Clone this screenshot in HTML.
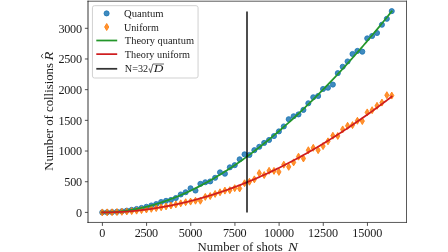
<!DOCTYPE html>
<html><head><meta charset="utf-8"><style>
html,body{margin:0;padding:0;background:#fff;width:448px;height:252px;overflow:hidden}
svg{display:block}
</style></head><body>
<svg width="448" height="252" viewBox="0 0 448 252">
<rect width="448" height="252" fill="#fff"/>
<defs><clipPath id="ax"><rect x="87.8" y="1.3" width="318.4" height="221"/></clipPath></defs>
<g clip-path="url(#ax)">
<g fill="#1f77b4" fill-opacity="0.85" stroke="#1f77b4" stroke-opacity="0.85" stroke-width="1.0">
<circle cx="102.25" cy="212.40" r="2.55"/>
<circle cx="107.16" cy="212.33" r="2.55"/>
<circle cx="112.06" cy="212.11" r="2.55"/>
<circle cx="116.97" cy="211.76" r="2.55"/>
<circle cx="121.88" cy="211.26" r="2.55"/>
<circle cx="126.78" cy="210.63" r="2.55"/>
<circle cx="131.69" cy="209.86" r="2.55"/>
<circle cx="136.60" cy="208.96" r="2.55"/>
<circle cx="141.50" cy="207.93" r="2.55"/>
<circle cx="146.41" cy="206.77" r="2.55"/>
<circle cx="151.32" cy="205.47" r="2.55"/>
<circle cx="156.23" cy="204.05" r="2.55"/>
<circle cx="161.13" cy="202.01" r="2.55"/>
<circle cx="166.04" cy="200.83" r="2.55"/>
<circle cx="170.95" cy="199.94" r="2.55"/>
<circle cx="175.85" cy="198.02" r="2.55"/>
<circle cx="180.76" cy="194.49" r="2.55"/>
<circle cx="185.67" cy="192.23" r="2.55"/>
<circle cx="190.57" cy="188.26" r="2.55"/>
<circle cx="195.48" cy="190.57" r="2.55"/>
<circle cx="200.39" cy="183.87" r="2.55"/>
<circle cx="205.29" cy="182.26" r="2.55"/>
<circle cx="210.20" cy="181.43" r="2.55"/>
<circle cx="215.11" cy="177.79" r="2.55"/>
<circle cx="220.01" cy="172.35" r="2.55"/>
<circle cx="224.92" cy="173.69" r="2.55"/>
<circle cx="229.83" cy="167.33" r="2.55"/>
<circle cx="234.74" cy="165.16" r="2.55"/>
<circle cx="239.64" cy="159.29" r="2.55"/>
<circle cx="244.55" cy="154.32" r="2.55"/>
<circle cx="249.46" cy="154.94" r="2.55"/>
<circle cx="254.36" cy="150.16" r="2.55"/>
<circle cx="259.27" cy="146.79" r="2.55"/>
<circle cx="264.18" cy="142.91" r="2.55"/>
<circle cx="269.08" cy="139.94" r="2.55"/>
<circle cx="273.99" cy="136.07" r="2.55"/>
<circle cx="278.90" cy="131.40" r="2.55"/>
<circle cx="283.80" cy="126.44" r="2.55"/>
<circle cx="288.71" cy="119.19" r="2.55"/>
<circle cx="293.62" cy="116.25" r="2.55"/>
<circle cx="298.52" cy="114.41" r="2.55"/>
<circle cx="303.43" cy="109.88" r="2.55"/>
<circle cx="308.34" cy="103.27" r="2.55"/>
<circle cx="313.25" cy="97.26" r="2.55"/>
<circle cx="318.15" cy="95.97" r="2.55"/>
<circle cx="323.06" cy="88.99" r="2.55"/>
<circle cx="327.97" cy="87.73" r="2.55"/>
<circle cx="332.87" cy="84.58" r="2.55"/>
<circle cx="337.78" cy="73.15" r="2.55"/>
<circle cx="342.69" cy="66.73" r="2.55"/>
<circle cx="347.59" cy="61.44" r="2.55"/>
<circle cx="352.50" cy="53.96" r="2.55"/>
<circle cx="357.41" cy="50.90" r="2.55"/>
<circle cx="362.31" cy="51.66" r="2.55"/>
<circle cx="367.22" cy="38.35" r="2.55"/>
<circle cx="372.13" cy="35.95" r="2.55"/>
<circle cx="377.03" cy="32.98" r="2.55"/>
<circle cx="381.94" cy="24.73" r="2.55"/>
<circle cx="386.85" cy="18.81" r="2.55"/>
<circle cx="391.76" cy="11.11" r="2.55"/>
</g>
<g fill="#ff7f0e" fill-opacity="0.85" stroke="#ff7f0e" stroke-opacity="0.85" stroke-width="1.0" stroke-linejoin="miter">
<path d="M102.25 208.90L104.35 212.40L102.25 215.90L100.15 212.40Z"/>
<path d="M107.16 208.86L109.26 212.36L107.16 215.86L105.06 212.36Z"/>
<path d="M112.06 208.76L114.16 212.26L112.06 215.76L109.96 212.26Z"/>
<path d="M116.97 208.58L119.07 212.08L116.97 215.58L114.87 212.08Z"/>
<path d="M121.88 208.33L123.98 211.83L121.88 215.33L119.78 211.83Z"/>
<path d="M126.78 208.00L128.88 211.50L126.78 215.00L124.68 211.50Z"/>
<path d="M131.69 207.61L133.79 211.11L131.69 214.61L129.59 211.11Z"/>
<path d="M136.60 207.15L138.70 210.65L136.60 214.15L134.50 210.65Z"/>
<path d="M141.50 206.62L143.60 210.12L141.50 213.62L139.40 210.12Z"/>
<path d="M146.41 206.01L148.51 209.51L146.41 213.01L144.31 209.51Z"/>
<path d="M151.32 205.34L153.42 208.84L151.32 212.34L149.22 208.84Z"/>
<path d="M156.23 204.60L158.33 208.10L156.23 211.60L154.13 208.10Z"/>
<path d="M161.13 203.79L163.23 207.29L161.13 210.79L159.03 207.29Z"/>
<path d="M166.04 202.91L168.14 206.41L166.04 209.91L163.94 206.41Z"/>
<path d="M170.95 201.96L173.05 205.46L170.95 208.96L168.85 205.46Z"/>
<path d="M175.85 200.95L177.95 204.45L175.85 207.95L173.75 204.45Z"/>
<path d="M180.76 199.86L182.86 203.36L180.76 206.86L178.66 203.36Z"/>
<path d="M185.67 198.71L187.77 202.21L185.67 205.71L183.57 202.21Z"/>
<path d="M190.57 198.09L192.67 201.59L190.57 205.09L188.47 201.59Z"/>
<path d="M195.48 197.21L197.58 200.71L195.48 204.21L193.38 200.71Z"/>
<path d="M200.39 197.26L202.49 200.76L200.39 204.26L198.29 200.76Z"/>
<path d="M205.29 193.44L207.39 196.94L205.29 200.44L203.19 196.94Z"/>
<path d="M210.20 192.56L212.30 196.06L210.20 199.56L208.10 196.06Z"/>
<path d="M215.11 190.41L217.21 193.91L215.11 197.41L213.01 193.91Z"/>
<path d="M220.01 188.79L222.11 192.29L220.01 195.79L217.91 192.29Z"/>
<path d="M224.92 187.11L227.02 190.61L224.92 194.11L222.82 190.61Z"/>
<path d="M229.83 186.67L231.93 190.17L229.83 193.67L227.73 190.17Z"/>
<path d="M234.74 184.66L236.84 188.16L234.74 191.66L232.64 188.16Z"/>
<path d="M239.64 184.98L241.74 188.48L239.64 191.98L237.54 188.48Z"/>
<path d="M244.55 179.74L246.65 183.24L244.55 186.74L242.45 183.24Z"/>
<path d="M249.46 178.24L251.56 181.74L249.46 185.24L247.36 181.74Z"/>
<path d="M254.36 175.87L256.46 179.37L254.36 182.87L252.26 179.37Z"/>
<path d="M259.27 169.64L261.37 173.14L259.27 176.64L257.17 173.14Z"/>
<path d="M264.18 171.55L266.28 175.05L264.18 178.55L262.08 175.05Z"/>
<path d="M269.08 167.30L271.18 170.80L269.08 174.30L266.98 170.80Z"/>
<path d="M273.99 167.38L276.09 170.88L273.99 174.38L271.89 170.88Z"/>
<path d="M278.90 168.40L281.00 171.90L278.90 175.40L276.80 171.90Z"/>
<path d="M283.80 161.16L285.90 164.66L283.80 168.16L281.70 164.66Z"/>
<path d="M288.71 163.35L290.81 166.85L288.71 170.35L286.61 166.85Z"/>
<path d="M293.62 158.89L295.72 162.39L293.62 165.89L291.52 162.39Z"/>
<path d="M298.52 153.16L300.62 156.66L298.52 160.16L296.42 156.66Z"/>
<path d="M303.43 154.98L305.53 158.48L303.43 161.98L301.33 158.48Z"/>
<path d="M308.34 146.73L310.44 150.23L308.34 153.73L306.24 150.23Z"/>
<path d="M313.25 144.32L315.35 147.82L313.25 151.32L311.15 147.82Z"/>
<path d="M318.15 146.65L320.25 150.15L318.15 153.65L316.05 150.15Z"/>
<path d="M323.06 142.62L325.16 146.12L323.06 149.62L320.96 146.12Z"/>
<path d="M327.97 137.83L330.07 141.33L327.97 144.83L325.87 141.33Z"/>
<path d="M332.87 132.19L334.97 135.69L332.87 139.19L330.77 135.69Z"/>
<path d="M337.78 132.48L339.88 135.98L337.78 139.48L335.68 135.98Z"/>
<path d="M342.69 125.91L344.79 129.41L342.69 132.91L340.59 129.41Z"/>
<path d="M347.59 122.29L349.69 125.79L347.59 129.29L345.49 125.79Z"/>
<path d="M352.50 121.61L354.60 125.11L352.50 128.61L350.40 125.11Z"/>
<path d="M357.41 117.27L359.51 120.77L357.41 124.27L355.31 120.77Z"/>
<path d="M362.31 117.57L364.41 121.07L362.31 124.57L360.21 121.07Z"/>
<path d="M367.22 108.91L369.32 112.41L367.22 115.91L365.12 112.41Z"/>
<path d="M372.13 106.70L374.23 110.20L372.13 113.70L370.03 110.20Z"/>
<path d="M377.03 102.32L379.13 105.82L377.03 109.32L374.93 105.82Z"/>
<path d="M381.94 99.10L384.04 102.60L381.94 106.10L379.84 102.60Z"/>
<path d="M386.85 91.71L388.95 95.21L386.85 98.71L384.75 95.21Z"/>
<path d="M391.76 92.07L393.86 95.57L391.76 99.07L389.66 95.57Z"/>
</g>
<polyline points="102.25,212.40 103.70,212.39 105.15,212.37 106.59,212.34 108.04,212.30 109.49,212.24 110.94,212.18 112.38,212.09 113.83,212.00 115.28,211.90 116.73,211.78 118.17,211.65 119.62,211.51 121.07,211.35 122.52,211.19 123.96,211.01 125.41,210.82 126.86,210.62 128.31,210.41 129.75,210.18 131.20,209.95 132.65,209.70 134.10,209.44 135.54,209.17 136.99,208.89 138.44,208.59 139.89,208.29 141.33,207.97 142.78,207.64 144.23,207.30 145.68,206.95 147.12,206.59 148.57,206.21 150.02,205.83 151.47,205.43 152.91,205.02 154.36,204.61 155.81,204.18 157.26,203.74 158.70,203.29 160.15,202.82 161.60,202.35 163.05,201.87 164.49,201.37 165.94,200.87 167.39,200.35 168.84,199.83 170.28,199.29 171.73,198.74 173.18,198.18 174.63,197.61 176.07,197.03 177.52,196.45 178.97,195.85 180.42,195.23 181.86,194.61 183.31,193.98 184.76,193.34 186.21,192.69 187.65,192.03 189.10,191.36 190.55,190.67 192.00,189.98 193.44,189.28 194.89,188.57 196.34,187.85 197.79,187.11 199.23,186.37 200.68,185.62 202.13,184.86 203.58,184.09 205.02,183.30 206.47,182.51 207.92,181.71 209.37,180.90 210.81,180.08 212.26,179.25 213.71,178.41 215.16,177.56 216.60,176.71 218.05,175.84 219.50,174.96 220.95,174.07 222.39,173.18 223.84,172.27 225.29,171.36 226.74,170.43 228.18,169.50 229.63,168.56 231.08,167.61 232.53,166.65 233.97,165.68 235.42,164.70 236.87,163.71 238.32,162.71 239.77,161.71 241.21,160.69 242.66,159.67 244.11,158.63 245.56,157.59 247.00,156.54 248.45,155.48 249.90,154.41 251.35,153.34 252.79,152.25 254.24,151.16 255.69,150.05 257.14,148.94 258.58,147.82 260.03,146.69 261.48,145.56 262.93,144.41 264.37,143.25 265.82,142.09 267.27,140.92 268.72,139.74 270.16,138.55 271.61,137.35 273.06,136.15 274.51,134.94 275.95,133.71 277.40,132.48 278.85,131.25 280.30,130.00 281.74,128.74 283.19,127.48 284.64,126.21 286.09,124.93 287.53,123.64 288.98,122.35 290.43,121.05 291.88,119.73 293.32,118.42 294.77,117.09 296.22,115.75 297.67,114.41 299.11,113.06 300.56,111.70 302.01,110.33 303.46,108.96 304.90,107.58 306.35,106.19 307.80,104.79 309.25,103.39 310.69,101.97 312.14,100.55 313.59,99.12 315.04,97.69 316.48,96.24 317.93,94.79 319.38,93.34 320.83,91.87 322.27,90.40 323.72,88.91 325.17,87.43 326.62,85.93 328.06,84.43 329.51,82.92 330.96,81.40 332.41,79.87 333.85,78.34 335.30,76.80 336.75,75.26 338.20,73.70 339.64,72.14 341.09,70.57 342.54,69.00 343.99,67.41 345.43,65.82 346.88,64.23 348.33,62.62 349.78,61.01 351.22,59.39 352.67,57.77 354.12,56.13 355.57,54.49 357.01,52.85 358.46,51.20 359.91,49.54 361.36,47.87 362.80,46.20 364.25,44.51 365.70,42.83 367.15,41.13 368.59,39.43 370.04,37.72 371.49,36.01 372.94,34.29 374.38,32.56 375.83,30.83 377.28,29.09 378.73,27.34 380.18,25.58 381.62,23.82 383.07,22.05 384.52,20.28 385.97,18.50 387.41,16.71 388.86,14.92 390.31,13.12 391.76,11.31" fill="none" stroke="#23962a" stroke-width="1.75" stroke-linecap="square" stroke-linejoin="round"/>
<polyline points="102.25,212.40 103.70,212.40 105.15,212.39 106.59,212.37 108.04,212.35 109.49,212.32 110.94,212.29 112.38,212.25 113.83,212.20 115.28,212.15 116.73,212.09 118.17,212.02 119.62,211.95 121.07,211.87 122.52,211.79 123.96,211.70 125.41,211.60 126.86,211.50 128.31,211.39 129.75,211.27 131.20,211.15 132.65,211.03 134.10,210.89 135.54,210.75 136.99,210.61 138.44,210.46 139.89,210.30 141.33,210.14 142.78,209.97 144.23,209.79 145.68,209.61 147.12,209.42 148.57,209.23 150.02,209.02 151.47,208.82 152.91,208.61 154.36,208.39 155.81,208.16 157.26,207.93 158.70,207.70 160.15,207.46 161.60,207.21 163.05,206.95 164.49,206.69 165.94,206.43 167.39,206.16 168.84,205.88 170.28,205.59 171.73,205.30 173.18,205.01 174.63,204.71 176.07,204.40 177.52,204.09 178.97,203.77 180.42,203.44 181.86,203.11 183.31,202.77 184.76,202.43 186.21,202.08 187.65,201.73 189.10,201.37 190.55,201.00 192.00,200.63 193.44,200.25 194.89,199.87 196.34,199.48 197.79,199.08 199.23,198.68 200.68,198.27 202.13,197.86 203.58,197.44 205.02,197.02 206.47,196.59 207.92,196.15 209.37,195.71 210.81,195.27 212.26,194.81 213.71,194.35 215.16,193.89 216.60,193.42 218.05,192.95 219.50,192.46 220.95,191.98 222.39,191.48 223.84,190.99 225.29,190.48 226.74,189.97 228.18,189.46 229.63,188.94 231.08,188.41 232.53,187.88 233.97,187.34 235.42,186.80 236.87,186.25 238.32,185.69 239.77,185.13 241.21,184.57 242.66,184.00 244.11,183.42 245.56,182.84 247.00,182.25 248.45,181.66 249.90,181.06 251.35,180.45 252.79,179.84 254.24,179.23 255.69,178.61 257.14,177.98 258.58,177.35 260.03,176.71 261.48,176.07 262.93,175.42 264.37,174.76 265.82,174.10 267.27,173.44 268.72,172.77 270.16,172.09 271.61,171.41 273.06,170.72 274.51,170.03 275.95,169.34 277.40,168.63 278.85,167.92 280.30,167.21 281.74,166.49 283.19,165.77 284.64,165.04 286.09,164.30 287.53,163.56 288.98,162.81 290.43,162.06 291.88,161.31 293.32,160.54 294.77,159.78 296.22,159.00 297.67,158.23 299.11,157.44 300.56,156.65 302.01,155.86 303.46,155.06 304.90,154.26 306.35,153.45 307.80,152.63 309.25,151.81 310.69,150.99 312.14,150.16 313.59,149.32 315.04,148.48 316.48,147.63 317.93,146.78 319.38,145.92 320.83,145.06 322.27,144.19 323.72,143.32 325.17,142.44 326.62,141.56 328.06,140.67 329.51,139.78 330.96,138.88 332.41,137.98 333.85,137.07 335.30,136.16 336.75,135.24 338.20,134.31 339.64,133.38 341.09,132.45 342.54,131.51 343.99,130.57 345.43,129.62 346.88,128.66 348.33,127.70 349.78,126.74 351.22,125.77 352.67,124.79 354.12,123.81 355.57,122.83 357.01,121.84 358.46,120.84 359.91,119.84 361.36,118.83 362.80,117.82 364.25,116.81 365.70,115.79 367.15,114.76 368.59,113.73 370.04,112.70 371.49,111.66 372.94,110.61 374.38,109.56 375.83,108.51 377.28,107.44 378.73,106.38 380.18,105.31 381.62,104.23 383.07,103.15 384.52,102.07 385.97,100.98 387.41,99.88 388.86,98.78 390.31,97.68 391.76,96.57" fill="none" stroke="#cf1d1f" stroke-width="1.75" stroke-linecap="square" stroke-linejoin="round"/>
<line x1="247.00" y1="212.40" x2="247.00" y2="11.48" stroke="#000" stroke-opacity="0.8" stroke-width="1.75"/>
</g>
<path d="M406.5 1.2V222.45M88.0 1.2H406.5M88.0 222.45H406.5" fill="none" stroke="#3c3c3c" stroke-width="0.85" stroke-linecap="square"/>
<path d="M88.0 1.2V222.45" fill="none" stroke="#111" stroke-width="0.85" stroke-linecap="square"/>
<path d="M102.40 222.45V225.9 M146.58 222.45V225.9 M190.75 222.45V225.9 M234.93 222.45V225.9 M279.10 222.45V225.9 M323.27 222.45V225.9 M367.45 222.45V225.9 M88.0 212.40H84.9 M88.0 181.72H84.9 M88.0 151.03H84.9 M88.0 120.35H84.9 M88.0 89.67H84.9 M88.0 58.98H84.9 M88.0 28.30H84.9" stroke="#333" stroke-width="0.85" fill="none"/>
<g font-family='"Liberation Serif", serif' font-size="12.2" fill="#1c1c1c">
<text x="102.25" y="237.0" text-anchor="middle" textLength="5.75">0</text>
<text x="146.43" y="237.0" text-anchor="middle" textLength="23.50">2500</text>
<text x="190.60" y="237.0" text-anchor="middle" textLength="23.50">5000</text>
<text x="234.78" y="237.0" text-anchor="middle" textLength="23.50">7500</text>
<text x="278.95" y="237.0" text-anchor="middle" textLength="30.15">10000</text>
<text x="323.12" y="237.0" text-anchor="middle" textLength="30.15">12500</text>
<text x="367.30" y="237.0" text-anchor="middle" textLength="30.15">15000</text>
<text x="82.0" y="216.80" text-anchor="end" textLength="5.75">0</text>
<text x="82.0" y="186.12" text-anchor="end" textLength="17.65">500</text>
<text x="82.0" y="155.43" text-anchor="end" textLength="23.50">1000</text>
<text x="82.0" y="124.75" text-anchor="end" textLength="23.50">1500</text>
<text x="82.0" y="94.07" text-anchor="end" textLength="23.50">2000</text>
<text x="82.0" y="63.38" text-anchor="end" textLength="23.50">2500</text>
<text x="82.0" y="32.70" text-anchor="end" textLength="23.50">3000</text>
</g>
<g font-family='"Liberation Serif", serif' font-size="12" fill="#1c1c1c">
<text x="197.6" y="250.9" textLength="85.2" lengthAdjust="spacingAndGlyphs">Number of shots</text>
<text x="288.1" y="250.9" font-style="italic" textLength="9.9" lengthAdjust="spacingAndGlyphs">N</text>
<g transform="translate(52.7 170.7) rotate(-90)"><text x="0" y="0" textLength="107.6" lengthAdjust="spacingAndGlyphs">Number of collisions</text><text x="110.2" y="0" font-style="italic" textLength="8.9" lengthAdjust="spacingAndGlyphs">R</text></g>
</g>
<path d="M42.9 53.9L41.2 56.1L42.9 58.3" fill="none" stroke="#000" stroke-width="0.7"/>
<rect x="92.45" y="5.7" width="105.6" height="72.3" rx="2" ry="2" fill="#fff" fill-opacity="0.8" stroke="#ccc" stroke-width="0.9"/>
<circle cx="106.6" cy="13.4" r="2.55" fill="#1f77b4" fill-opacity="0.85" stroke="#1f77b4" stroke-opacity="0.85" stroke-width="1.0"/>
<path d="M106.7 23.5L108.8 27.0L106.7 30.5L104.60000000000001 27.0Z" fill="#ff7f0e" fill-opacity="0.85" stroke="#ff7f0e" stroke-opacity="0.85" stroke-width="1.0"/>
<line x1="96.3" y1="40.5" x2="117.2" y2="40.5" stroke="#23962a" stroke-width="1.75"/>
<line x1="96.3" y1="54.15" x2="117.2" y2="54.15" stroke="#cf1d1f" stroke-width="1.75"/>
<line x1="96.3" y1="68.8" x2="117.2" y2="68.8" stroke="#000" stroke-opacity="0.8" stroke-width="1.75"/>
<g font-family='"Liberation Serif", serif' font-size="9.9" fill="#1c1c1c">
<text x="124.0" y="16.9" textLength="39.6" lengthAdjust="spacingAndGlyphs">Quantum</text>
<text x="124.0" y="30.8" textLength="34.8" lengthAdjust="spacingAndGlyphs">Uniform</text>
<text x="124.8" y="44.3" textLength="69.2" lengthAdjust="spacingAndGlyphs">Theory quantum</text>
<text x="124.8" y="57.7" textLength="65.3" lengthAdjust="spacingAndGlyphs">Theory uniform</text>
<text x="124.8" y="71.9" textLength="23.3" lengthAdjust="spacingAndGlyphs">N=32</text>
<text x="153.8" y="71.9" font-style="italic" textLength="9.6" lengthAdjust="spacingAndGlyphs">D</text>
<path d="M148.6 69.2L149.4 68.7L150.6 72.6L152.9 64.0H164.0" fill="none" stroke="#000" stroke-width="0.6"/>
</g>
</svg>
</body></html>
